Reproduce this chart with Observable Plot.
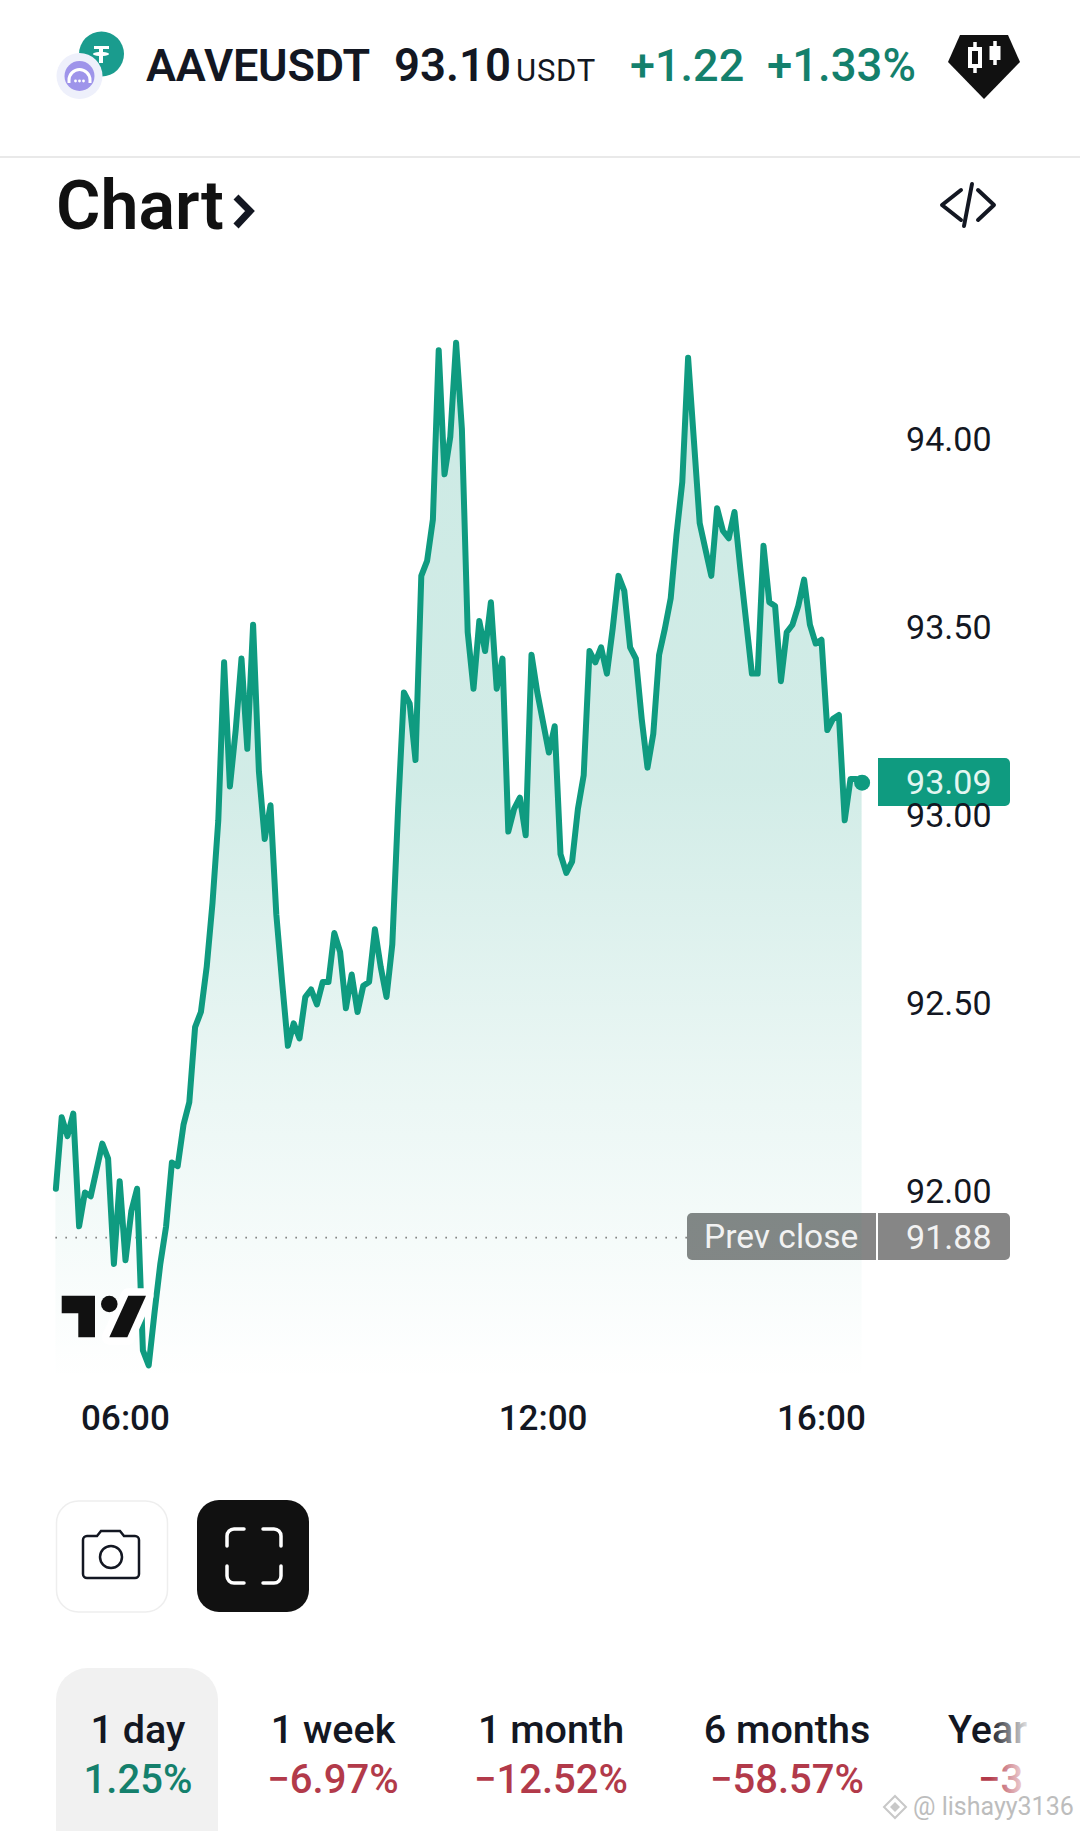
<!DOCTYPE html>
<html>
<head>
<meta charset="utf-8">
<script src="https://cdn.jsdelivr.net/npm/d3@7"></script>
<script src="https://cdn.jsdelivr.net/npm/@observablehq/plot@0.6"></script>
<style>
html,body{margin:0;padding:0;background:#fff;}
#page{position:relative;width:1080px;height:1831px;overflow:hidden;font-family:Roboto,sans-serif;color:#131722;background:#fff;}
.t{position:absolute;white-space:nowrap;line-height:1;}
.c{transform:translateX(-50%);}
.box{position:absolute;}
#chart{position:absolute;left:0;top:240px;}
#chart svg{display:block;}
svg.ov{position:absolute;left:0;top:0;width:1080px;height:1831px;pointer-events:none;}
</style>
</head>
<body>
<div id="page">
  <div class="box" style="left:0;top:156px;width:1080px;height:1.5px;background:#e9e9e9"></div>

  <div class="t" style="left:146px;top:43px;font-size:45px;font-weight:600;letter-spacing:-.2px">AAVEUSDT</div>
  <div class="t" style="left:394px;top:43px;font-size:45.500px;font-weight:600">93.10</div>
  <div class="t" style="left:516px;top:55px;font-size:31px;letter-spacing:.8px">USDT</div>
  <div class="t" style="left:630px;top:43px;font-size:45px;font-weight:500;color:#14806c">+1.22</div>
  <div class="t" style="left:767px;top:43px;font-size:45.500px;font-weight:500;color:#14806c">+1.33%</div>
  <div class="t" style="left:56px;top:172px;font-size:68px;font-weight:600;color:#111">Chart</div>

  <div class="box" style="left:687px;top:1213px;width:189px;height:47px;background:#868686;border-radius:5px 0 0 5px"></div>
  <div class="box" style="left:878px;top:1213px;width:132px;height:47px;background:#868686;border-radius:0 5px 5px 0"></div>
  <div class="box" style="left:878px;top:758px;width:132px;height:48px;background:#0f9b80;border-radius:0 5px 5px 0"></div>

  <div id="chart"></div>

  <svg class="ov" viewBox="0 0 1080 1831">
    <!-- coin icons -->
    <circle cx="101.5" cy="54" r="22.5" fill="#1a9c8e"/>
    <path d="M94 46h15v3h-6v3c3.500 .3 6 1 6 2s-2.500 1.800-6 2v7h-4v-7c-3.500-.2-6-1-6-2s2.500-1.700 6-2v-3h-5z" fill="#fff"/>
    <circle cx="79.500" cy="76" r="23" fill="#eef0fb"/>
    <circle cx="79.500" cy="76" r="15" fill="#9e94ea"/>
    <path d="M69 83v-3a10.500 10.500 0 0 1 21 0v3" fill="none" stroke="#fff" stroke-width="3"/>
    <circle cx="75.500" cy="81" r="1.400" fill="#fff"/><circle cx="79.500" cy="81" r="1.400" fill="#fff"/><circle cx="83.500" cy="81" r="1.400" fill="#fff"/>
    <!-- badge -->
    <path d="M960 35H1008L1020 62L984 99L948 62Z" fill="#111"/>
    <path d="M975 42V73M995 41V65" stroke="#fff" stroke-width="3.500"/>
    <rect x="970" y="49" width="10" height="17" fill="#111" stroke="#fff" stroke-width="4"/>
    <rect x="989.500" y="46" width="11" height="14" fill="#fff"/>
    <!-- chevron and code -->
    <path d="M236 197L250 211L236 226" fill="none" stroke="#131722" stroke-width="7"/>
    <path d="M961 190L942 205L961 220M978 190L994 205L978 220M972 184L964 226" fill="none" stroke="#131722" stroke-width="4" stroke-linecap="round" stroke-linejoin="round"/>
    <!-- TradingView logo -->
    <path d="M146 1295.700L127.300 1337.300H109.300L128.300 1295.700Z" fill="#fff" stroke="#fff" stroke-width="15" stroke-linejoin="round"/>
    <path d="M61.700 1295.700H95V1337.300H78.300V1313.300H61.700Z" fill="#111"/>
    <circle cx="109.300" cy="1304" r="8.300" fill="#111"/>
    <path d="M146 1295.700L127.300 1337.300H109.300L128.300 1295.700Z" fill="#111"/>
    <!-- buttons -->
    <rect x="56.500" y="1501" width="111" height="111" rx="22" fill="#fff" stroke="#eeeeee" stroke-width="1.500"/>
    <rect x="197" y="1500" width="112" height="112" rx="22" fill="#111"/>
    <path d="M83 1540a4 4 0 0 1 4-4h10l4-5h19l4 5h11a4 4 0 0 1 4 4v34a4 4 0 0 1-4 4H87a4 4 0 0 1-4-4Z" fill="none" stroke="#131722" stroke-width="2.500"/>
    <circle cx="111" cy="1557" r="11" fill="none" stroke="#131722" stroke-width="2.500"/>
    <path d="M227 1546v-10a7 7 0 0 1 7-7h10M263 1529h11a7 7 0 0 1 7 7v10M281 1566v10a7 7 0 0 1-7 7h-11M244 1583h-10a7 7 0 0 1-7-7v-10" fill="none" stroke="#fff" stroke-width="3.500" stroke-linecap="round"/>
    <!-- watermark -->
    <path d="M895 1796l11 11-11 11-11-11Z" fill="none" stroke="#c8c8c8" stroke-width="2"/>
    <path d="M895 1802l5 5-5 5-5-5Z" fill="#c8c8c8"/>
  </svg>

  <div class="box" style="left:56px;top:1668px;width:162px;height:200px;background:#f1f1f1;border-radius:32px"></div>
  <div class="t c" style="left:138px;top:1710px;font-size:39.500px;font-weight:500">1 day</div>
  <div class="t c" style="left:138px;top:1760px;font-size:40px;font-weight:500;color:#14806c">1.25%</div>
  <div class="t c" style="left:333px;top:1710px;font-size:39.500px;font-weight:500">1 week</div>
  <div class="t c" style="left:333px;top:1760px;font-size:40px;font-weight:500;color:#b23a4a">−6.97%</div>
  <div class="t c" style="left:551px;top:1710px;font-size:39.500px;font-weight:500">1 month</div>
  <div class="t c" style="left:551px;top:1760px;font-size:40px;font-weight:500;color:#b23a4a">−12.52%</div>
  <div class="t c" style="left:787px;top:1710px;font-size:39.500px;font-weight:500">6 months</div>
  <div class="t c" style="left:787px;top:1760px;font-size:40px;font-weight:500;color:#b23a4a">−58.57%</div>
  <div class="t" style="left:948px;top:1710px;font-size:39.500px;font-weight:500">Year</div>
  <div class="t" style="left:978px;top:1763px;font-size:40px;line-height:.85;font-weight:500;color:#b23a4a">−3</div>
  <div class="box" style="left:950px;top:1700px;width:130px;height:131px;background:linear-gradient(90deg,rgba(255,255,255,0) 0%,rgba(255,255,255,0) 30%,rgba(255,255,255,.95) 62%,#fff 100%)"></div>
  <div class="t" style="left:913px;top:1798px;font-size:25px;line-height:.7;color:#bdbdbd">@ lishayy3136</div>
</div>

<script>
const startTime = Date.UTC(2024, 0, 1, 5, 0);
const stepMinutes = 5;
const prices = [
  92.01,92.20,92.15,92.21,91.91,92.00,91.99,92.06,92.13,92.09,
  91.81,92.03,91.82,91.95,92.01,91.58,91.54,91.68,91.81,91.91,
  92.08,92.07,92.18,92.24,92.44,92.48,92.60,92.77,92.99,93.41,
  93.08,93.23,93.42,93.18,93.51,93.12,92.94,93.03,92.74,92.56,
  92.39,92.45,92.41,92.52,92.54,92.50,92.56,92.56,92.69,92.64,
  92.49,92.58,92.48,92.55,92.56,92.70,92.60,92.52,92.66,93.02,
  93.33,93.30,93.15,93.64,93.68,93.79,94.24,93.91,94.01,94.26,
  94.03,93.49,93.34,93.52,93.44,93.57,93.34,93.42,92.96,93.02,
  93.05,92.95,93.43,93.33,93.25,93.17,93.24,92.90,92.85,92.88,
  93.02,93.11,93.44,93.41,93.45,93.38,93.50,93.64,93.60,93.45,
  93.42,93.26,93.13,93.22,93.43,93.50,93.58,93.75,93.89,94.22,
  94.00,93.78,93.71,93.64,93.82,93.76,93.74,93.81,93.66,93.52,
  93.38,93.38,93.72,93.57,93.56,93.36,93.49,93.51,93.56,93.63,
  93.51,93.46,93.47,93.23,93.26,93.27,92.99,93.10,93.10,93.09
];
const yTicks = [92, 92.5, 93, 93.5, 94];
const xTickHours = [6, 12, 16];
const lastPrice = 93.09;
const prevClose = 91.88;
const prevCloseLabel = "Prev close";

const rows = prices.map((v, i) => ({t: new Date(startTime + i * stepMinutes * 60000), v}));
const last = rows[rows.length - 1];
const xTicks = xTickHours.map(h => new Date(Date.UTC(2024, 0, 1, h, 0)));
const ruleEnd = new Date(Date.UTC(2024, 0, 1, 14, 5));
const green = "#0f9b80";

const gradient = () => {
  const defs = d3.create("svg:defs");
  const g = defs.append("linearGradient").attr("id", "areaFade")
    .attr("x1", 0).attr("x2", 0).attr("y1", 0).attr("y2", 1);
  [[0, .21], [.42, .19], [.7, .09], [1, 0]].forEach(([o, a]) =>
    g.append("stop").attr("offset", o).attr("stop-color", green).attr("stop-opacity", a));
  return defs.node();
};

const chart = Plot.plot({
  width: 1080,
  height: 1240,
  marginLeft: 55.4,
  marginRight: 218.4,
  marginTop: 12,
  marginBottom: 100,
  style: {background: "transparent", fontFamily: "Roboto, sans-serif", overflow: "visible"},
  x: {type: "utc", domain: [rows[0].t, last.t], label: null},
  y: {domain: [91.5, 94.5], label: null},
  marks: [
    gradient,
    Plot.areaY(rows, {x: "t", y1: 91.5, y2: "v", fill: "url(#areaFade)"}),
    Plot.ruleY([prevClose], {x1: rows[0].t, x2: ruleEnd, stroke: "#777", strokeWidth: 1.8, strokeDasharray: "1.5 8.5"}),
    Plot.lineY(rows, {x: "t", y: "v", stroke: green, strokeWidth: 6, strokeLinejoin: "round"}),
    Plot.dot([last], {x: "t", y: "v", r: 8, fill: green}),
    Plot.axisY(yTicks, {anchor: "right", tickSize: 0, tickPadding: 44, tickFormat: d3.format(".2f"), fontSize: 34, fill: "#131722", label: null}),
    Plot.axisX(xTicks, {anchor: "bottom", tickSize: 0, tickPadding: 25, tickFormat: d3.utcFormat("%H:%M"), fontSize: 35, fontWeight: 500, fill: "#131722", label: null}),
    Plot.text([last], {x: "t", y: "v", text: d => d.v.toFixed(2), dx: 44, textAnchor: "start", fontSize: 34, fill: "#e3f6f1"}),
    Plot.text([{t: last.t, v: prevClose}], {x: "t", y: "v", text: d => d.v.toFixed(2), dx: 44, textAnchor: "start", fontSize: 34, fill: "#f2f2f2"}),
    Plot.text([{t: ruleEnd, v: prevClose}], {x: "t", y: "v", text: () => prevCloseLabel, dx: 16, textAnchor: "start", fontSize: 33.5, fill: "#f2f2f2"})
  ]
});
document.getElementById("chart").appendChild(chart);
</script>
</body>
</html>
